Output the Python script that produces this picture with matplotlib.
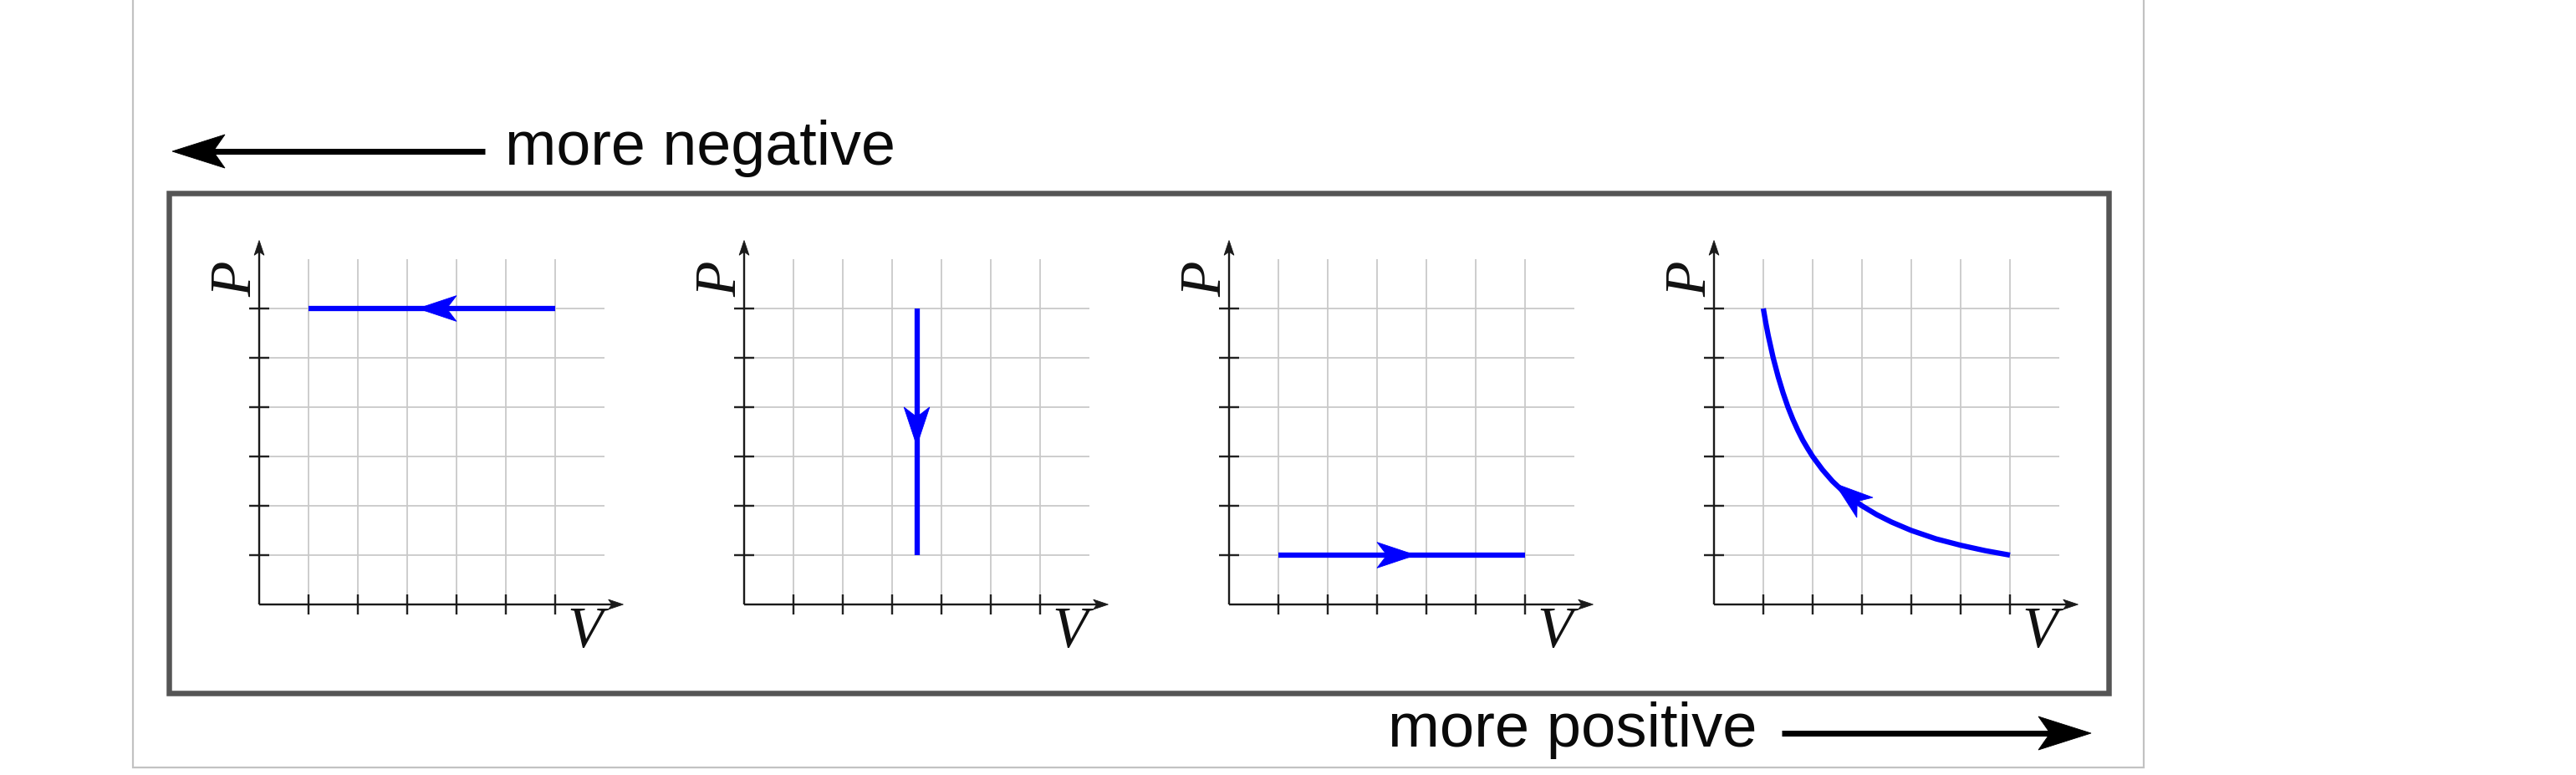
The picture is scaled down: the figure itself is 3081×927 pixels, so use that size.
import numpy as np
import matplotlib
matplotlib.use("Agg")
import matplotlib.pyplot as plt
from matplotlib.patches import Polygon, Rectangle

# ---------------- data ----------------
ticks = [1, 2, 3, 4, 5, 6]
x_label = "V"
y_label = "P"
label_negative = "more negative"
label_positive = "more positive"

# panel 1: isobaric compression (right -> left at P = 6)
v1 = [6, 1]
p1 = [6, 6]
# panel 2: isochoric cooling (top -> bottom at V = 3.5)
v2 = [3.5, 3.5]
p2 = [6, 1]
# panel 3: isobaric expansion (left -> right at P = 1)
v3 = [1, 6]
p3 = [1, 1]
# panel 4: isothermal compression (from (6,1) up to (1,6))
v4 = [6.0, 5.5, 5.0, 4.5, 4.0, 3.6, 3.3, 3.0, 2.8, 2.6, 2.4, 2.2, 2.0,
      1.9, 1.8, 1.7, 1.6, 1.5, 1.4, 1.3, 1.2, 1.1, 1.05, 1.0]
p4 = [1.0, 1.09, 1.2, 1.33, 1.5, 1.67, 1.82, 2.0, 2.14, 2.31, 2.5, 2.73, 3.0,
      3.16, 3.33, 3.53, 3.75, 4.0, 4.29, 4.62, 5.0, 5.45, 5.71, 6.0]

panels_v = [v1, v2, v3, v4]
panels_p = [p1, p2, p3, p4]

# ---------------- figure ----------------
W, H = 3081, 927
DPI = 100
fig = plt.figure(figsize=(W / DPI, H / DPI), dpi=DPI)
fig.patch.set_facecolor("white")

PX = 72.0 / DPI  # points per pixel

# overlay axes in pixel coordinates (y down) for frames and direction labels
ov = fig.add_axes([0, 0, 1, 1])
ov.set_xlim(0, W)
ov.set_ylim(H, 0)
ov.axis("off")
ov.set_zorder(0)


def stealth(ax, tip, back, half_w, notch, color, z=5, clip=False):
    tip = np.asarray(tip, float)
    back = np.asarray(back, float)
    d = tip - back
    L = np.hypot(*d)
    u = d / L
    n = np.array([-u[1], u[0]])
    pts = [tip, back + n * half_w, back + u * notch, back - n * half_w]
    ax.add_patch(Polygon(pts, closed=True, facecolor=color, edgecolor=color,
                         lw=0.6, joinstyle="miter", clip_on=clip, zorder=z))


# outer light frame
ov.add_patch(Rectangle((159, -20), 2564 - 159, 918 + 20, fill=False,
                       edgecolor="#c2c2c2", lw=2.2 * PX, zorder=1))
# inner dark box
ov.add_patch(Rectangle((202, 231), 2522 - 202, 829 - 231, fill=False,
                       edgecolor="#555555", lw=6.5 * PX, joinstyle="miter",
                       zorder=1))

# direction arrows
ov.plot([580, 240], [181, 181], color="black", lw=7 * PX,
        solid_capstyle="butt", zorder=2)
stealth(ov, (206, 181), (269, 181), 20, 14, "black", z=3)
ov.plot([2131, 2470], [877, 877], color="black", lw=7 * PX,
        solid_capstyle="butt", zorder=2)
stealth(ov, (2501, 877), (2438, 877), 20, 14, "black", z=3)

ov.text(604, 197, label_negative, ha="left", va="baseline",
        family="Liberation Sans", fontsize=53, color="#0a0a0a")
ov.text(1660, 893, label_positive, ha="left", va="baseline",
        family="Liberation Sans", fontsize=53.5, color="#0a0a0a")

# ---------------- panels ----------------
UNIT = 59.0          # pixels per data unit
LIM = 7.0
origin_x = [310, 890, 1470, 2050]
origin_y = H - 723   # from bottom
blue = "#0000ff"
HEAD_FRAC = 0.4      # where the arrow head starts along each path
HEAD_LEN = 0.78


def point_at(xs, ys, s):
    xs = np.asarray(xs, float)
    ys = np.asarray(ys, float)
    seg = np.hypot(np.diff(xs), np.diff(ys))
    cum = np.concatenate([[0], np.cumsum(seg)])
    s = np.clip(s, 0, cum[-1])
    i = min(np.searchsorted(cum, s, side="right") - 1, len(seg) - 1)
    t = (s - cum[i]) / seg[i]
    return (xs[i] + t * (xs[i + 1] - xs[i]), ys[i] + t * (ys[i + 1] - ys[i])), cum[-1]


for k in range(4):
    ax = fig.add_axes([origin_x[k] / W, origin_y / H,
                       LIM * UNIT / W, LIM * UNIT / H])
    ax.set_zorder(2)
    ax.patch.set_visible(False)
    ax.set_xlim(0, LIM)
    ax.set_ylim(0, LIM)
    for sp in ax.spines.values():
        sp.set_visible(False)
    ax.set_xticks(ticks)
    ax.set_yticks(ticks)
    ax.set_xticklabels([])
    ax.set_yticklabels([])
    ax.tick_params(axis="both", direction="inout", length=24 * PX,
                   width=2.4 * PX, color="#222222")
    ax.grid(True, color="#c9c9c9", lw=1.8 * PX)
    ax.set_axisbelow(True)

    # axis lines with arrow heads
    ax.plot([0, 0], [0, 7.2], color="#1a1a1a", lw=2.4 * PX,
            solid_capstyle="butt", clip_on=False, zorder=3)
    ax.plot([0, 7.2], [0, 0], color="#1a1a1a", lw=2.4 * PX,
            solid_capstyle="butt", clip_on=False, zorder=3)
    stealth(ax, (0, 7.38), (0, 7.08), 0.1, 0.07, "#1a1a1a", z=4)
    stealth(ax, (7.38, 0), (7.08, 0), 0.1, 0.07, "#1a1a1a", z=4)

    # axis labels
    ax.text(-0.45, 6.6, y_label, rotation=90, ha="center", va="center",
            family="Liberation Serif", style="italic", fontsize=50,
            color="#111111", clip_on=False)
    ax.text(6.6, -0.58, x_label, ha="center", va="center",
            family="Liberation Serif", style="italic", fontsize=50,
            color="#111111", clip_on=False)

    # process path
    vs, ps = panels_v[k], panels_p[k]
    ax.plot(vs, ps, color=blue, lw=6.3 * PX, solid_capstyle="butt",
            solid_joinstyle="round", clip_on=False, zorder=5)
    _, total = point_at(vs, ps, 0)
    s_back = HEAD_FRAC * total
    back, _ = point_at(vs, ps, s_back)
    tip, _ = point_at(vs, ps, s_back + HEAD_LEN)
    stealth(ax, tip, back, 0.26, 0.2, blue, z=6)

fig.savefig("out.png", dpi=DPI, facecolor="white")
